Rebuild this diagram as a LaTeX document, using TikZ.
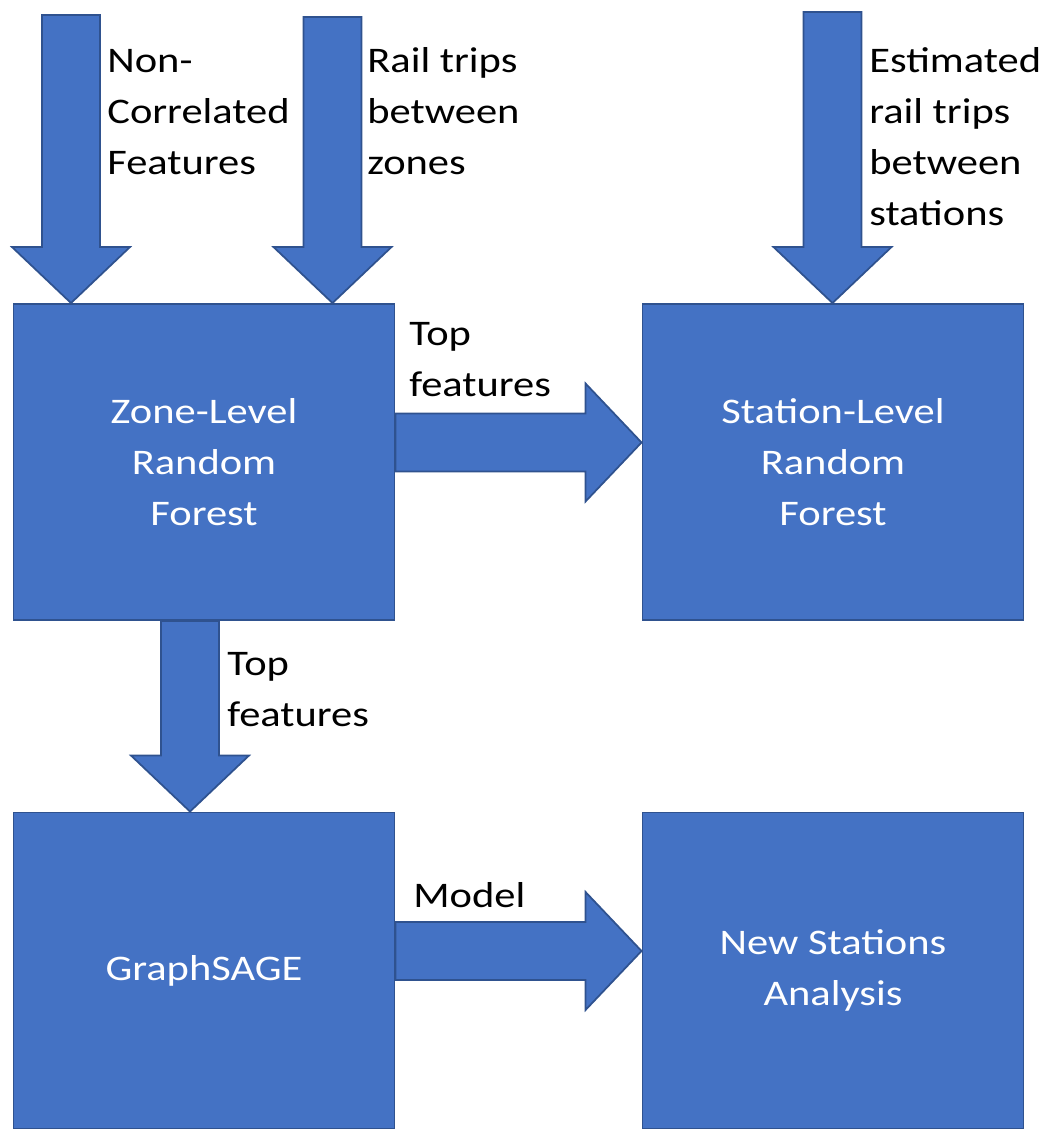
\documentclass[tikz,border=0pt]{standalone}
\usepackage{fontspec}
\setmainfont{Carlito}[FakeStretch=1.18]
\usetikzlibrary{calc, positioning}
\definecolor{cblue}{HTML}{4472C4}
\definecolor{cedge}{HTML}{2F528F}
\tikzset{
  every picture/.style={font=\fontsize{20.5}{29}\selectfont},
  box/.style={draw=cedge, fill=cblue, line width=1.1pt, text=white, align=center,
    minimum width=7.62cm, minimum height=6.32cm, inner sep=0pt},
  lbl/.style={anchor=north west, align=left, inner sep=0pt},
  barrow/.style={draw=cedge, fill=cblue, line width=1pt, line join=miter},
}
% block arrow from #1 to #2
\newcommand{\blockarrow}[2]{%
  \path (#1) coordinate (ba-s) (#2) coordinate (ba-t);
  \path ($(ba-t)!1.12cm!(ba-s)$) coordinate (ba-h);
  \draw[barrow] ($(ba-s)!0.58cm!90:(ba-t)$) -- ($(ba-h)!0.58cm!90:(ba-t)$)
    -- ($(ba-h)!1.18cm!90:(ba-t)$) -- (ba-t) -- ($(ba-h)!1.18cm!-90:(ba-t)$)
    -- ($(ba-h)!0.58cm!-90:(ba-t)$) -- ($(ba-s)!0.58cm!-90:(ba-t)$) -- cycle;}

\begin{document}
\begin{tikzpicture}
  \useasboundingbox (0, 0) rectangle (21.02, 22.82);
  \node[box] (zl) at (4.08, 13.58) {Zone-Level\\Random\\Forest};
  \node[box] (sl) at (16.66, 13.58) {Station-Level\\Random\\Forest};
  \node[box] (gs) at (4.08, 3.41) {GraphSAGE};
  \node[box] (ns) at (16.66, 3.41) {New Stations\\Analysis};
  % inputs
  \coordinate (in1) at (1.42, 22.52);
  \coordinate (in2) at (6.65, 22.48);
  \coordinate (in3) at (16.65, 22.58);
  \blockarrow{in1}{in1 |- zl.north}
  \blockarrow{in2}{in2 |- zl.north}
  \blockarrow{in3}{in3 |- sl.north}
  \blockarrow{$(zl.east)+(0, 0.39)$}{sl.west |- ba-s}
  \blockarrow{3.80, 0 |- zl.south}{3.80, 0 |- gs.north}
  \blockarrow{$(gs.east)+(0, 0.39)$}{ns.west |- ba-s}
  \node[lbl] (l1) at (2.14, 21.84) {Non-\\Correlated\\Features};
  \node[lbl] (l2) at (7.34, 21.88) {Rail trips\\between\\zones};
  \node[lbl] (l3) at (17.38, 21.88) {Estimated\\rail trips\\between\\stations};
  \node[lbl] (l4) at (8.18, 16.38) {Top\\features};
  \node[lbl] (l5) at (4.54, 9.78) {Top\\features};
  \node[lbl] (l6) at (8.26, 5.18) {Model};
\end{tikzpicture}
\end{document}
